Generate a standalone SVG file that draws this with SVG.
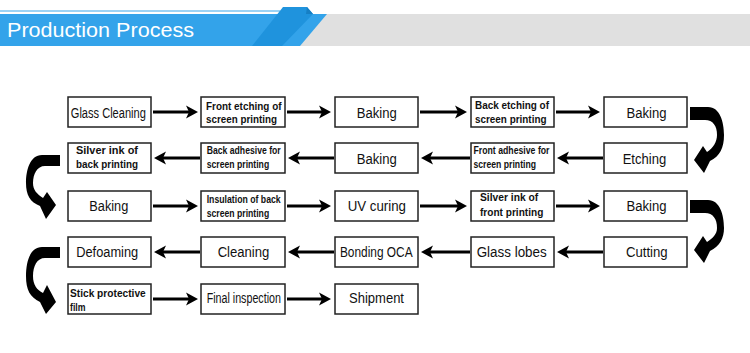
<svg xmlns="http://www.w3.org/2000/svg" width="750" height="353" viewBox="0 0 750 353">
<style>
.box{fill:#fff;stroke:#222;stroke-width:1.5}
.n{font-family:"Liberation Sans",Arial,sans-serif;font-size:14px;fill:#111}
.b{font-family:"Liberation Sans",Arial,sans-serif;font-weight:bold;font-size:11px;fill:#111}
.ln{stroke:#000;stroke-width:3;fill:none}
.ah{fill:#000}
.big{fill:#000}
</style>
<defs>
<path id="ahr" d="M0,0 L-12,-6.5 L-9,0 L-12,6.5 Z"/>
<path id="ahl" d="M0,0 L12,-6.5 L9,0 L12,6.5 Z"/>
</defs>
<rect x="0" y="0" width="750" height="353" fill="#fff"/>
<g id="header">
<rect x="290" y="14" width="460" height="32" fill="#e0e0e0"/>
<line x1="0" y1="11" x2="280" y2="11" stroke="#3aa6ea" stroke-width="1.2"/>
<polygon points="0,14 327,14 300,46 0,46" fill="#33a3ea"/>
<polygon points="283,7 307,7 313,14 282,46 252,46" fill="#1f93dd"/>
<polygon points="307,7 313,14 306,14" fill="#167fc4"/>
<text x="7" y="36.5" font-family="'Liberation Sans',Arial,sans-serif" font-size="20.5" fill="#fff" textLength="187" lengthAdjust="spacingAndGlyphs">Production Process</text>
</g>
<g id="connectors">
<line class="ln" x1="153" y1="112" x2="190" y2="112"/><use href="#ahr" x="198" y="112"/>
<line class="ln" x1="287" y1="112" x2="323" y2="112"/><use href="#ahr" x="331" y="112"/>
<line class="ln" x1="420" y1="112" x2="459" y2="112"/><use href="#ahr" x="467" y="112"/>
<line class="ln" x1="556" y1="112" x2="592" y2="112"/><use href="#ahr" x="600" y="112"/>
<line class="ln" x1="603" y1="158" x2="566" y2="158"/><use href="#ahl" x="557" y="158"/>
<line class="ln" x1="470" y1="158" x2="430" y2="158"/><use href="#ahl" x="421" y="158"/>
<line class="ln" x1="334" y1="158" x2="297" y2="158"/><use href="#ahl" x="288" y="158"/>
<line class="ln" x1="200" y1="158" x2="163" y2="158"/><use href="#ahl" x="154" y="158"/>
<line class="ln" x1="153" y1="206" x2="190" y2="206"/><use href="#ahr" x="198" y="206"/>
<line class="ln" x1="287" y1="206" x2="323" y2="206"/><use href="#ahr" x="331" y="206"/>
<line class="ln" x1="420" y1="206" x2="459" y2="206"/><use href="#ahr" x="467" y="206"/>
<line class="ln" x1="556" y1="206" x2="592" y2="206"/><use href="#ahr" x="600" y="206"/>
<line class="ln" x1="603" y1="252" x2="566" y2="252"/><use href="#ahl" x="557" y="252"/>
<line class="ln" x1="470" y1="252" x2="430" y2="252"/><use href="#ahl" x="421" y="252"/>
<line class="ln" x1="334" y1="252" x2="297" y2="252"/><use href="#ahl" x="288" y="252"/>
<line class="ln" x1="200" y1="252" x2="163" y2="252"/><use href="#ahl" x="154" y="252"/>
<line class="ln" x1="153" y1="299" x2="190" y2="299"/><use href="#ahr" x="198" y="299"/>
<line class="ln" x1="287" y1="299" x2="323" y2="299"/><use href="#ahr" x="331" y="299"/>
<path class="big" d="M690,107 L708,107 C720,107 724,122 724,135 C724,148 720,156 710,161 L704,173 L694,160 L703,146 L707,152 C713,148 717,142 717,135 C717,126 713,120 705,120 L690,120 Z"/>
<path class="big" d="M690,200 L708,200 C720,200 724,215 724,228 C724,238 720,246 710,251 L704,263 L694,250 L703,236 L707,242 C713,238 717,234 717,228 C717,219 713,213 705,213 L690,213 Z"/>
<path class="big" d="M60,155 L42,155 C30,155 26,170 26,183 C26,195 30,202 40,206 L46,219 L56,205 L47,192 L43,198 C37,194 33,190 33,183 C33,174 37,166 45,166 L60,166 Z"/>
<path class="big" d="M60,247 L42,247 C30,247 26,262 26,276 C26,290 30,297 40,302 L46,314 L56,302 L47,285 L43,293 C37,290 33,285 33,276 C33,266 37,258 45,258 L60,258 Z"/>
</g>
<g id="n1"><rect class="box" x="68" y="97" width="83" height="30"/><text class="n" x="108.3" y="118" text-anchor="middle" font-size="12.5" textLength="75" lengthAdjust="spacingAndGlyphs">Glass Cleaning</text></g>
<g id="n2"><rect class="box" x="201" y="97" width="84" height="30"/><text class="b" x="206" y="109.5" textLength="75.5" lengthAdjust="spacingAndGlyphs">Front etching of</text><text class="b" x="206" y="123" textLength="71" lengthAdjust="spacingAndGlyphs">screen printing</text></g>
<g id="n3"><rect class="box" x="335" y="97" width="83" height="30"/><text class="n" x="376.7" y="118" text-anchor="middle" textLength="40" lengthAdjust="spacingAndGlyphs">Baking</text></g>
<g id="n4"><rect class="box" x="471" y="97" width="83" height="30"/><text class="b" x="475" y="109" textLength="74" lengthAdjust="spacingAndGlyphs">Back etching of</text><text class="b" x="475" y="123" textLength="71.5" lengthAdjust="spacingAndGlyphs">screen printing</text></g>
<g id="n5"><rect class="box" x="604" y="97" width="83" height="30"/><text class="n" x="646.5" y="118" text-anchor="middle" textLength="40" lengthAdjust="spacingAndGlyphs">Baking</text></g>
<g id="n6"><rect class="box" x="604" y="143" width="83" height="30"/><text class="n" x="644.4" y="164" text-anchor="middle" textLength="43.5" lengthAdjust="spacingAndGlyphs">Etching</text></g>
<g id="n7"><rect class="box" x="471" y="143" width="83" height="30"/><text class="b" x="473.5" y="154.3" font-size="10" textLength="76" lengthAdjust="spacingAndGlyphs">Front adhesive for</text><text class="b" x="473.5" y="168.3" font-size="10" textLength="62.5" lengthAdjust="spacingAndGlyphs">screen printing</text></g>
<g id="n8"><rect class="box" x="335" y="143" width="83" height="30"/><text class="n" x="376.7" y="164" text-anchor="middle" textLength="40" lengthAdjust="spacingAndGlyphs">Baking</text></g>
<g id="n9"><rect class="box" x="201" y="143" width="84" height="30"/><text class="b" x="206.7" y="154" font-size="10" textLength="74" lengthAdjust="spacingAndGlyphs">Back adhesive for</text><text class="b" x="206.7" y="167.5" font-size="10" textLength="62.5" lengthAdjust="spacingAndGlyphs">screen printing</text></g>
<g id="n10"><rect class="box" x="68" y="143" width="83" height="30"/><text class="b" x="76" y="154" font-size="12" textLength="62" lengthAdjust="spacingAndGlyphs">Silver ink of</text><text class="b" x="76" y="168.3" font-size="12" textLength="62" lengthAdjust="spacingAndGlyphs">back printing</text></g>
<g id="n11"><rect class="box" x="68" y="191" width="83" height="30"/><text class="n" x="108.8" y="211" text-anchor="middle" textLength="39" lengthAdjust="spacingAndGlyphs">Baking</text></g>
<g id="n12"><rect class="box" x="201" y="191" width="84" height="30"/><text class="b" x="206.7" y="202.7" font-size="10" textLength="74" lengthAdjust="spacingAndGlyphs">Insulation of back</text><text class="b" x="206.7" y="216.7" font-size="10" textLength="62.5" lengthAdjust="spacingAndGlyphs">screen printing</text></g>
<g id="n13"><rect class="box" x="335" y="191" width="83" height="30"/><text class="n" x="376.8" y="211" text-anchor="middle" textLength="58.3" lengthAdjust="spacingAndGlyphs">UV curing</text></g>
<g id="n14"><rect class="box" x="471" y="191" width="83" height="30"/><text class="b" x="480" y="201" font-size="11.5" textLength="58.3" lengthAdjust="spacingAndGlyphs">Silver ink of</text><text class="b" x="480" y="216" font-size="11.5" textLength="63.3" lengthAdjust="spacingAndGlyphs">front printing</text></g>
<g id="n15"><rect class="box" x="604" y="191" width="83" height="30"/><text class="n" x="646.5" y="211" text-anchor="middle" textLength="40" lengthAdjust="spacingAndGlyphs">Baking</text></g>
<g id="n16"><rect class="box" x="604" y="237" width="83" height="30"/><text class="n" x="646.8" y="257" text-anchor="middle" textLength="41.7" lengthAdjust="spacingAndGlyphs">Cutting</text></g>
<g id="n17"><rect class="box" x="471" y="237" width="83" height="30"/><text class="n" x="511.7" y="257" text-anchor="middle" textLength="70" lengthAdjust="spacingAndGlyphs">Glass lobes</text></g>
<g id="n18"><rect class="box" x="335" y="237" width="83" height="30"/><text class="n" x="376.3" y="257" text-anchor="middle" font-size="12.5" textLength="72.7" lengthAdjust="spacingAndGlyphs">Bonding OCA</text></g>
<g id="n19"><rect class="box" x="201" y="237" width="84" height="30"/><text class="n" x="243.5" y="257" text-anchor="middle" textLength="51.7" lengthAdjust="spacingAndGlyphs">Cleaning</text></g>
<g id="n20"><rect class="box" x="68" y="237" width="83" height="30"/><text class="n" x="107.2" y="257" text-anchor="middle" textLength="62" lengthAdjust="spacingAndGlyphs">Defoaming</text></g>
<g id="n21"><rect class="box" x="68" y="284" width="83" height="30"/><text class="b" x="70" y="297.3" font-size="11.5" textLength="75.7" lengthAdjust="spacingAndGlyphs">Stick protective</text><text class="b" x="70" y="310.7" font-size="11.5" textLength="15.5" lengthAdjust="spacingAndGlyphs">film</text></g>
<g id="n22"><rect class="box" x="201" y="284" width="84" height="30"/><text class="n" x="243.8" y="302.7" text-anchor="middle" font-size="12" textLength="74.3" lengthAdjust="spacingAndGlyphs">Final inspection</text></g>
<g id="n23"><rect class="box" x="335" y="284" width="83" height="30"/><text class="n" x="376.5" y="303" text-anchor="middle" textLength="55" lengthAdjust="spacingAndGlyphs">Shipment</text></g>
</svg>
